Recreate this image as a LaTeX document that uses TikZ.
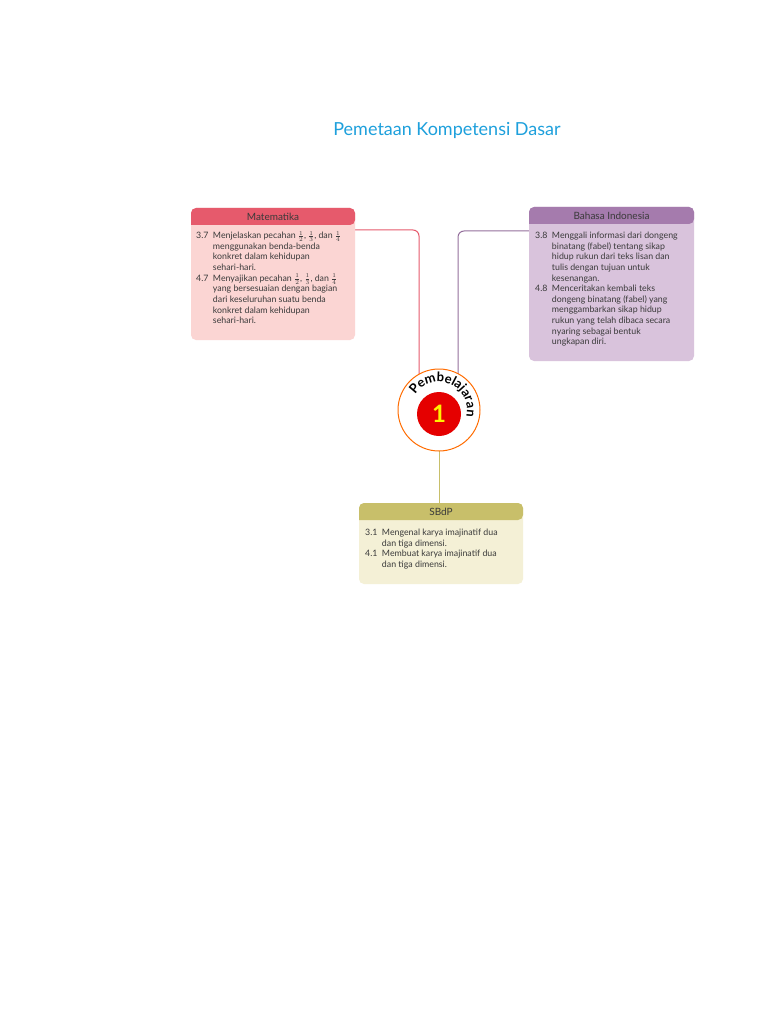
\documentclass[tikz,border=0pt]{standalone}
\usepackage{fontspec}
\usepackage{array}
\setmainfont{Lato}
\usetikzlibrary{decorations.text}
\definecolor{mhead}{HTML}{E65A6C}\definecolor{mbody}{HTML}{FBD5D3}
\definecolor{bhead}{HTML}{A57BAD}\definecolor{bbody}{HTML}{D9C3DC}
\definecolor{shead}{HTML}{C8BF6A}\definecolor{sbody}{HTML}{F4F0D6}
\definecolor{ttl}{HTML}{1EA0DC}\definecolor{txt}{HTML}{3A3A3A}
\tikzset{body/.style={rounded corners=5pt,fill=#1},
 head/.style={font=\fontsize{10}{11}\selectfont,text=txt},
 items/.style={font=\fontsize{8.8}{10.6}\selectfont,text=txt,anchor=north west,inner sep=0pt},
 conn/.style={line width=1pt}}
\newcommand{\fr}[2]{$\frac{#1}{#2}$}
\newcolumntype{P}{>{\raggedright\arraybackslash}p{128pt}}
\begin{document}
\begin{tikzpicture}[x=1pt,y=-1pt]
\useasboundingbox[fill=white] (0,0) rectangle (768,1024);
\node[font=\fontsize{18}{20}\selectfont,text=ttl] (title) at (447,130) {Pemetaan Kompetensi Dasar};
% connectors
\coordinate (m1) at (355,230); \coordinate (m2) at (419,230);
\coordinate (b1) at (529,231); \coordinate (b2) at (458,231);
\draw[conn,mhead,rounded corners=6pt] (m1) -- (m2) -- (419,380);
\draw[conn,bhead!90!black,rounded corners=6pt] (b1) -- (b2) -- (458,380);
\draw[conn,shead] (439,450) -- (439,503);
% Matematika
\fill[body=mbody] (191,208) rectangle (355,340);
\path[fill=mhead,rounded corners=5pt] (191,225) -- (191,208) -- (355,208) -- (355,225) [sharp corners]-- cycle;
\node[head] (mh) at (273,216.5) {Matematika};
\node[items] (mt) at (196,231) {\begin{tabular}{@{}l@{\ \ }P@{}}
3.7 & Menjelaskan pecahan \fr12, \fr13, dan \fr14 menggunakan benda-benda konkret dalam kehidupan sehari-hari.\\[1pt]
4.7 & Menyajikan pecahan \fr12, \fr13, dan \fr14 yang bersesuaian dengan bagian dari keseluruhan suatu benda konkret dalam kehidupan sehari-hari.
\end{tabular}};
% Bahasa
\fill[body=bbody] (529,207) rectangle (694,361);
\path[fill=bhead,rounded corners=5pt] (529,224) -- (529,207) -- (694,207) -- (694,224) [sharp corners]-- cycle;
\node[head] (bh) at (611.5,215.5) {Bahasa Indonesia};
\node[items] (bt) at (535,231) {\begin{tabular}{@{}l@{\ \ }P@{}}
3.8 & Menggali informasi dari dongeng binatang (fabel) tentang sikap hidup rukun dari teks lisan dan tulis dengan tujuan untuk kesenangan.\\[3pt]
4.8 & Menceritakan kembali teks dongeng binatang (fabel) yang menggambarkan sikap hidup rukun yang telah dibaca secara nyaring sebagai bentuk ungkapan diri.
\end{tabular}};
% SBdP
\fill[body=sbody] (359,503) rectangle (523,584);
\path[fill=shead,rounded corners=5pt] (359,520) -- (359,503) -- (523,503) -- (523,520) [sharp corners]-- cycle;
\node[head] (sh) at (441,511.5) {SBdP};
\node[items] (st) at (365,528) {\begin{tabular}{@{}l@{\ \ }P@{}}
3.1 & Mengenal karya imajinatif dua dan tiga dimensi.\\[3pt]
4.1 & Membuat karya imajinatif dua dan tiga dimensi.
\end{tabular}};
% circle
\node[circle,draw=orange!85!red,line width=1pt,fill=white,minimum size=82pt,inner sep=0pt] (c) at (439,410) {};
\node[circle,fill=red!90!black,minimum size=44pt,inner sep=0pt,text=yellow,font=\bfseries\fontsize{24}{24}\selectfont] (one) at (439,414) {1};
\begin{scope}[shift={(439,410)},y=1pt]
\path[decorate,decoration={text along path,text align=center,text={|\bfseries\fontsize{13}{13}\selectfont|Pembelajaran}}]
 (210:28) arc[start angle=210,end angle=-75,radius=28];
\end{scope}
\end{tikzpicture}
\end{document}
